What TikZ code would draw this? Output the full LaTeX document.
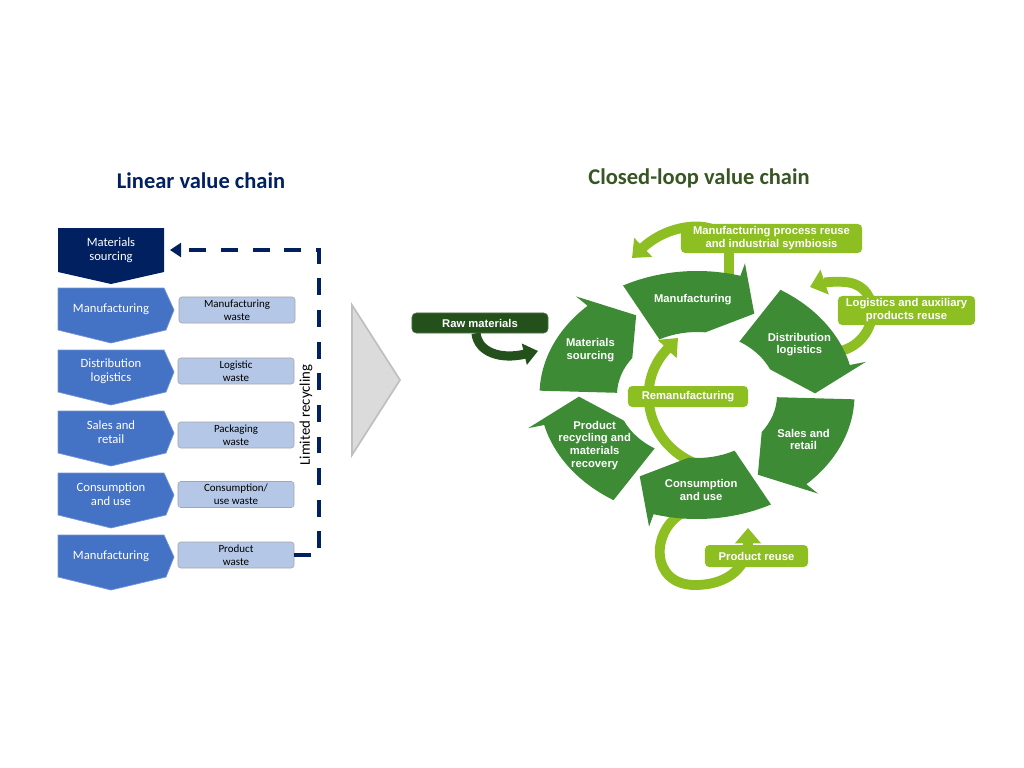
\documentclass[tikz,border=0pt]{standalone}
\usepackage{fontspec}
\setmainfont{Carlito}
\newfontfamily\arialf{Liberation Sans}
\usetikzlibrary{arrows.meta,calc}
\definecolor{cnavy}{HTML}{002060}
\definecolor{cblue}{HTML}{4472C4}
\definecolor{cwaste}{HTML}{B4C7E7}
\definecolor{cseg}{HTML}{3D8B35}
\definecolor{clight}{HTML}{8DBE22}
\definecolor{craw}{HTML}{24501C}
\definecolor{ctitle}{HTML}{375623}
\tikzset{
  every picture/.style={x=0.025cm, y=-0.025cm},
  title/.style={font=\fontsize{16}{19}\selectfont\bfseries},
  chev/.style={minimum width=2.65cm, minimum height=1.05cm, inner sep=0pt,
    align=center, text=white, font=\fontsize{9}{10}\selectfont},
  waste/.style={draw=gray!70, fill=cwaste, rounded corners=2pt, minimum width=2.9cm,
    minimum height=0.65cm, inner sep=0pt, align=center, font=\fontsize{7.8}{9.2}\selectfont},
  recyc/.style={cnavy, line width=2.6pt, dash pattern=on 12pt off 10.5pt,
    -{Triangle[width=10pt,length=8pt]}},
  seg/.style={fill=cseg},
  segtext/.style={text=white, align=center, font=\arialf\bfseries\fontsize{8}{9}\selectfont},
  reuse/.style={clight, line width=7pt, -{Triangle[width=18pt,length=11pt]}},
  lbox/.style={fill=clight, rounded corners=3pt, text=white, align=center, inner sep=0pt,
    font=\arialf\bfseries\fontsize{8}{9.2}\selectfont},
}
\def\Ro{124}
\def\Ri{63}
\newcommand{\chevron}[3]{% name, top, text
  \fill[cblue, draw=cblue!75!white, line width=0.5pt] (58,#2) -- (164,#2) -- (174,#2+22)
    -- (166,#2+42) -- (111,#2+55) -- (58,#2+42) -- cycle;
  \node[chev] (#1) at (111,#2+21) {#3};}
\newcommand{\segment}[3]{% name, tail angle, text
  \fill[seg] (#2:\Ro) arc[start angle=#2, end angle=#2-44, radius=\Ro]
    -- ({#2-44}:{\Ro+13}) -- ({#2-57}:93) -- ({#2-34}:\Ri)
    arc[start angle=#2-34, end angle=#2, radius=\Ri] -- cycle;
  \node[segtext] (#1) at ({#2-26}:95) {#3};}

\begin{document}
\begin{tikzpicture}
  \path[use as bounding box] (0,0) rectangle (1024,768);
  % linear chain
  \node[title, cnavy] (tlin) at (201,181) {Linear value chain};
  \fill[cnavy] (58,228) -- (164,228) -- (164,272) -- (111,284) -- (58,272) -- cycle;
  \node[chev] (ms) at (111,250) {Materials\\sourcing};
  \chevron{mf}{288}{Manufacturing}
  \chevron{dl}{350}{Distribution\\logistics}
  \chevron{sr}{411}{Sales and\\retail}
  \chevron{cu}{473}{Consumption\\and use}
  \chevron{mf2}{535}{Manufacturing}
  \node[waste] (w1) at (237,310) {Manufacturing\\waste};
  \node[waste] (w2) at (236,371) {Logistic\\waste};
  \node[waste] (w3) at (236,435) {Packaging\\waste};
  \node[waste] (w4) at (236,494.5) {Consumption/\\use waste};
  \node[waste] (w5) at (236,555) {Product\\waste};
  \draw[recyc, shorten >=4pt] (w5.east) -- ++(25,0) |- (ms.east);
  \node[rotate=90, font=\fontsize{10.5}{12}\selectfont] (lr) at (306,415) {Limited recycling};
  \filldraw[fill=gray!28, draw=gray!50, line width=1.2pt] (352,305) -- (400,380) -- (352,455) -- cycle;
  % closed loop
  \node[title, ctitle] (tclo) at (699,178) {Closed-loop value chain};
  \draw[reuse] (729,280) -- (729,250) .. controls (727,218) and (672,220) .. (632,258);
  \draw[reuse] (836,352) .. controls (880,345) and (885,285) .. (845,282)
    .. controls (832,281) and (822,283) .. (810,287);
  \draw[reuse] (700,465) .. controls (648,448) and (632,385) .. (678,338);
  \draw[reuse] (684,512) .. controls (650,530) and (650,585) .. (695,585)
    .. controls (730,585) and (748,565) .. (748,528);
  \node[fill=craw, draw=craw!80!white, rounded corners=3pt, minimum width=3.4cm, minimum height=0.5cm,
    inner sep=0pt, text=white, font=\arialf\bfseries\fontsize{8}{9}\selectfont] (rm) at (480,323) {Raw materials};
  \draw[craw, line width=6.5pt, -{Triangle[width=15pt,length=10pt]}]
    ($(rm.south)+(-4,0)$) .. controls (478,352) and (500,360) .. (538,351);
  \begin{scope}[shift={(697,395)}, xscale=1.27, yscale=-1]
    \segment{sg1}{118}{Manufacturing}
    \segment{sg2}{58}{Distribution\\logistics}
    \segment{sg3}{-2}{Sales and\\retail}
    \segment{sg4}{-62}{Consumption\\and use}
    \segment{sg5}{-122}{Product\\recycling and\\materials\\recovery}
    \segment{sg6}{178}{Materials\\sourcing}
  \end{scope}
  \node[lbox, minimum width=4.525cm, minimum height=0.725cm] (b1) at (771.5,238.5)
    {Manufacturing process reuse\\and industrial symbiosis};
  \node[lbox, minimum width=3.425cm, minimum height=0.725cm] (b2) at (906.5,310.5)
    {Logistics and auxiliary\\products reuse};
  \node[lbox, minimum width=3cm, minimum height=0.525cm] (b3) at (688,396.5) {Remanufacturing};
  \node[lbox, minimum width=2.575cm, minimum height=0.55cm] (b4) at (756.5,556) {Product reuse};
\end{tikzpicture}
\end{document}
